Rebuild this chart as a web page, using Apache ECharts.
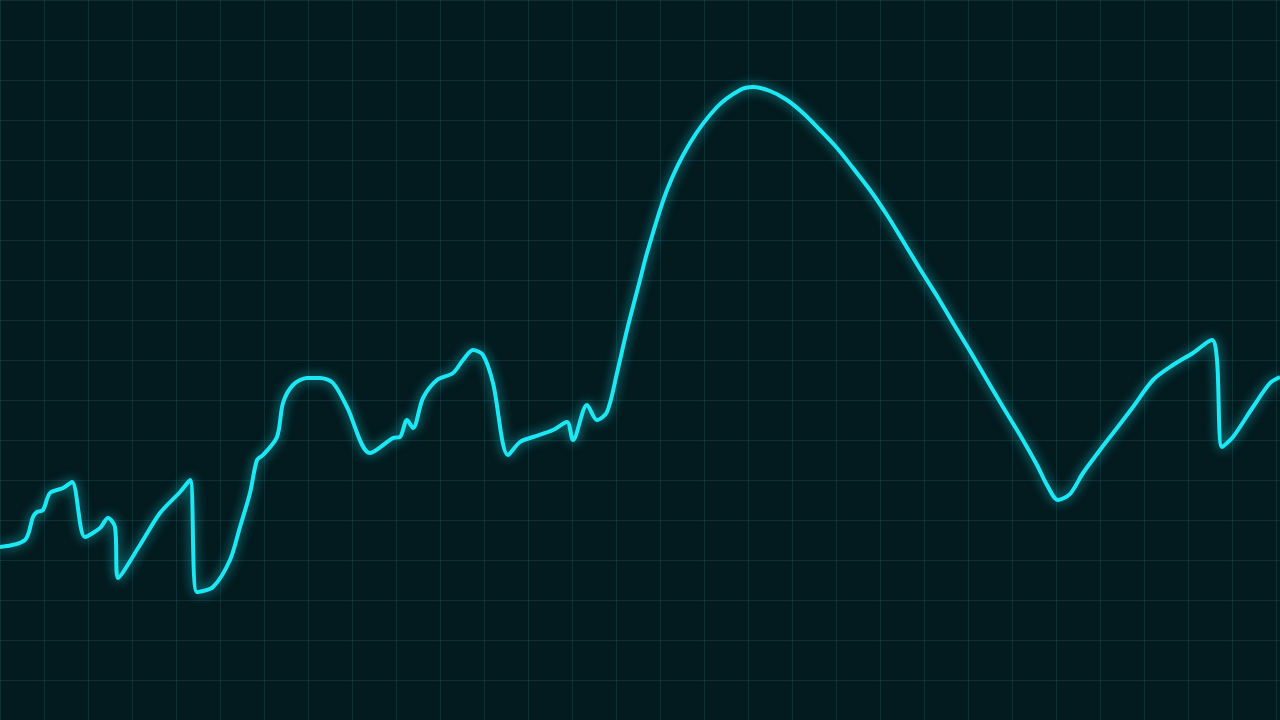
<!DOCTYPE html>
<html>
<head>
<meta charset="utf-8">
<style>
  html, body { margin: 0; padding: 0; background: #031a1e; }
  #chart { width: 1280px; height: 720px; }
</style>
<script src="https://cdn.jsdelivr.net/npm/echarts@6/dist/echarts.min.js"></script>
</head>
<body>
<div id="chart"></div>
<script>
// Horizontal position of each sample (0..1280 scale)
const xPos = [0, 25, 33, 37, 43, 50, 63, 72, 85, 100, 108, 115, 118, 140, 160, 180, 190, 197, 213, 230, 240, 250, 257, 263, 277, 283, 293, 307, 320,
  333, 347, 370, 393, 400, 407, 413, 423, 437, 453, 463, 473, 483, 493, 508, 520, 533, 553, 567, 573, 587, 597, 607, 617, 627,
  640, 647, 667, 690, 717, 740, 753, 770, 787, 803, 820, 837, 853, 870, 887, 903, 920, 937, 953, 970, 987, 1003, 1020, 1037,
  1047, 1058, 1070, 1083, 1100, 1117, 1133, 1153, 1173, 1193, 1212, 1217, 1222, 1233, 1253, 1270, 1280];
// Level of the signal at each sample (height from the bottom, 0..720 scale)
const level = [173, 180, 203, 208, 210, 227, 232, 238, 183, 192, 202, 193, 142, 175, 207, 228, 240, 128, 133, 160, 193, 227, 260, 265, 283, 317, 335, 342, 342,
  337, 313, 267, 282, 283, 300, 292, 322, 340, 347, 360, 370, 365, 337, 265, 278, 283, 290, 298, 280, 315, 300, 308, 347, 390,
  440, 467, 530, 577, 613, 630, 633, 629, 620, 607, 590, 572, 552, 530, 505, 479, 451, 424, 397, 369, 340, 313, 285, 255,
  235, 220, 226, 247, 270, 292, 313, 340, 355, 367, 380, 360, 273, 283, 313, 337, 343];

const seriesData = xPos.map((x, i) => [x, level[i]]);

const chart = echarts.init(document.getElementById('chart'), null, { renderer: 'canvas' });
const gridColor = 'rgba(30, 95, 100, 0.32)';
chart.setOption({
  backgroundColor: '#031a1e',
  animation: false,
  grid: { left: 0, right: 0, top: 0, bottom: 0, containLabel: false },
  xAxis: {
    type: 'value', min: 0, max: 1280, interval: 44,
    axisLine: { show: false }, axisTick: { show: false }, axisLabel: { show: false },
    splitLine: { show: true, lineStyle: { color: gridColor, width: 1 } }
  },
  yAxis: {
    type: 'value', min: 0, max: 720, interval: 40,
    axisLine: { show: false }, axisTick: { show: false }, axisLabel: { show: false },
    splitLine: { show: true, lineStyle: { color: gridColor, width: 1 } }
  },
  series: [{
    type: 'line',
    data: seriesData,
    smooth: 0.3,
    showSymbol: false,
    lineStyle: {
      color: '#1ce8f5',
      width: 4,
      shadowColor: 'rgba(28, 232, 245, 0.75)',
      shadowBlur: 12
    }
  }]
});
</script>
</body>
</html>
